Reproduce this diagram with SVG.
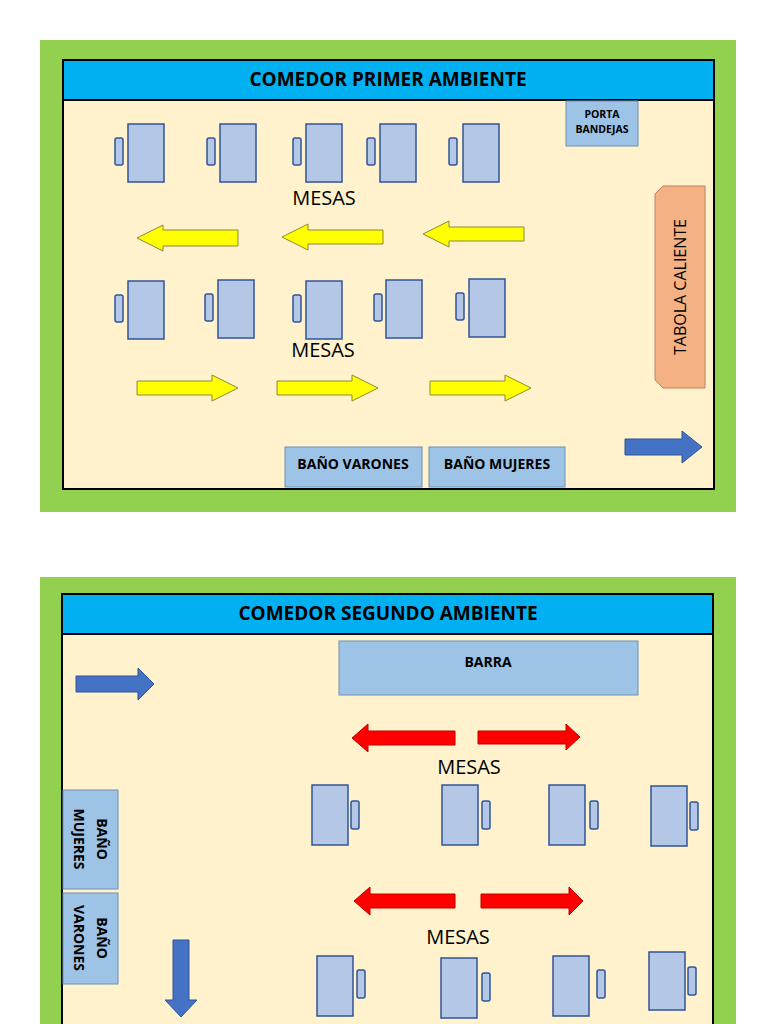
<svg xmlns="http://www.w3.org/2000/svg" width="768" height="1024" viewBox="0 0 768 1024">
<style>
.g{fill:#92d050}.fr{fill:#fff2cc;stroke:#000;stroke-width:2}.hd{fill:#00b0f0;stroke:#000;stroke-width:2}
.t{fill:#b4c7e7;stroke:#2f5597;stroke-width:1.5}.c{fill:#b4c7e7;stroke:#2f5597;stroke-width:1.5}
.bx{fill:#9dc3e6;stroke:#6f8fb8;stroke-width:1}
.ya{fill:#ffff00;stroke:#8a8a3a;stroke-width:1}.ra{fill:#ff0000;stroke:#c00000;stroke-width:1}.ba{fill:#4472c4;stroke:#2f5597;stroke-width:1}
text{font-family:"Open Sans","Liberation Sans",sans-serif;fill:#000}
.h{font-size:19px;font-weight:bold}.m{font-size:20px}.b{font-size:14px;font-weight:bold}.s{font-size:10.5px;font-weight:bold}
</style>
<rect class="g" x="40" y="40" width="696" height="472"/>
<rect class="fr" x="63" y="60" width="651" height="429"/>
<rect class="hd" x="63" y="60" width="651" height="40"/>
<text class="h" x="388" y="86" text-anchor="middle">COMEDOR PRIMER AMBIENTE</text>
<g id="mesas1">
<rect class="t" x="128" y="124" width="36" height="58"/><rect class="c" x="115" y="138" width="8" height="27" rx="2"/>
<rect class="t" x="220" y="124" width="36" height="58"/><rect class="c" x="207" y="138" width="8" height="27" rx="2"/>
<rect class="t" x="306" y="124" width="36" height="58"/><rect class="c" x="293" y="138" width="8" height="27" rx="2"/>
<rect class="t" x="380" y="124" width="36" height="58"/><rect class="c" x="367" y="138" width="8" height="27" rx="2"/>
<rect class="t" x="463" y="124" width="36" height="58"/><rect class="c" x="449" y="138" width="8" height="27" rx="2"/>
<rect class="t" x="128" y="281" width="36" height="58"/><rect class="c" x="115" y="295" width="8" height="27" rx="2"/>
<rect class="t" x="218" y="280" width="36" height="58"/><rect class="c" x="205" y="294" width="8" height="27" rx="2"/>
<rect class="t" x="306" y="281" width="36" height="58"/><rect class="c" x="293" y="295" width="8" height="27" rx="2"/>
<rect class="t" x="386" y="280" width="36" height="58"/><rect class="c" x="374" y="294" width="8" height="27" rx="2"/>
<rect class="t" x="469" y="279" width="36" height="58"/><rect class="c" x="456" y="293" width="8" height="27" rx="2"/>
<text class="m" x="324" y="205" text-anchor="middle">MESAS</text>
<text class="m" x="323" y="357" text-anchor="middle">MESAS</text>
</g>
<g id="connectors1">
<polygon class="ya" points="238,230 163,230 163,225 137,238 163,251 163,246 238,246"/>
<polygon class="ya" points="383,230 308,230 308,224 282,237 308,250 308,244 383,244"/>
<polygon class="ya" points="524,227 449,227 449,221 423,234 449,247 449,241 524,241"/>
<polygon class="ya" points="137,381 212,381 212,375 238,388 212,401 212,395 137,395"/>
<polygon class="ya" points="277,381 352,381 352,375 378,388 352,401 352,395 277,395"/>
<polygon class="ya" points="430,381 505,381 505,375 531,388 505,401 505,395 430,395"/>
<polygon class="ba" points="625,439 682,439 682,431 702,447 682,463 682,455 625,455"/>
</g>
<g id="porta"><rect class="bx" x="566" y="101" width="72" height="45"/>
<text class="s" x="602" y="118" text-anchor="middle">PORTA</text><text class="s" x="602" y="133" text-anchor="middle">BANDEJAS</text></g>
<g id="tabola"><polygon points="663,186 705,186 705,388 663,388 655,380 655,194" fill="#f4b183" stroke="#c08060" stroke-width="1"/>
<text font-size="16" transform="translate(686,287) rotate(-90)" text-anchor="middle">TABOLA CALIENTE</text></g>
<g id="banos1"><rect class="bx" x="285" y="447" width="137" height="40"/><text class="b" x="353" y="469" text-anchor="middle">BAÑO VARONES</text>
<rect class="bx" x="429" y="447" width="136" height="40"/><text class="b" x="497" y="469" text-anchor="middle">BAÑO MUJERES</text></g>

<rect class="g" x="40" y="577" width="696" height="447"/>
<rect class="fr" x="62" y="594" width="651" height="440"/>
<rect class="hd" x="62" y="594" width="651" height="40"/>
<text class="h" x="388" y="620" text-anchor="middle">COMEDOR SEGUNDO AMBIENTE</text>
<g id="barra"><rect class="bx" x="339" y="641" width="299" height="54"/><text class="b" x="488" y="667" text-anchor="middle">BARRA</text></g>
<g id="mesas2">
<rect class="t" x="312" y="785" width="36" height="60"/><rect class="c" x="351" y="801" width="8" height="28" rx="2"/>
<rect class="t" x="442" y="785" width="36" height="60"/><rect class="c" x="482" y="801" width="8" height="28" rx="2"/>
<rect class="t" x="549" y="785" width="36" height="60"/><rect class="c" x="590" y="801" width="8" height="28" rx="2"/>
<rect class="t" x="651" y="786" width="36" height="60"/><rect class="c" x="690" y="802" width="8" height="28" rx="2"/>
<rect class="t" x="317" y="956" width="36" height="60"/><rect class="c" x="357" y="970" width="8" height="28" rx="2"/>
<rect class="t" x="441" y="958" width="36" height="60"/><rect class="c" x="482" y="973" width="8" height="28" rx="2"/>
<rect class="t" x="553" y="956" width="36" height="60"/><rect class="c" x="597" y="970" width="8" height="28" rx="2"/>
<rect class="t" x="649" y="952" width="36" height="58"/><rect class="c" x="688" y="967" width="8" height="28" rx="2"/>
<text class="m" x="469" y="774" text-anchor="middle">MESAS</text>
<text class="m" x="458" y="944" text-anchor="middle">MESAS</text>
</g>
<g id="connectors2">
<polygon class="ba" points="76,676 138,676 138,668 154,684 138,700 138,692 76,692"/>
<polygon class="ra" points="455,731 368,731 368,724 352,738 368,752 368,745 455,745"/>
<polygon class="ra" points="478,731 566,731 566,724 580,737 566,750 566,744 478,744"/>
<polygon class="ra" points="455,894 370,894 370,887 354,901 370,915 370,908 455,908"/>
<polygon class="ra" points="481,894 569,894 569,887 583,901 569,915 569,908 481,908"/>
<polygon class="ba" points="173,940 189,940 189,1000 197,1000 181,1017 165,1000 173,1000"/>
</g>
<g id="banos2">
<rect class="bx" x="63" y="790" width="55" height="99"/>
<text class="b" transform="translate(97,839) rotate(90)" text-anchor="middle">BAÑO</text>
<text class="b" transform="translate(74,839) rotate(90)" text-anchor="middle">MUJERES</text>
<rect class="bx" x="63" y="893" width="55" height="91"/>
<text class="b" transform="translate(97,938) rotate(90)" text-anchor="middle">BAÑO</text>
<text class="b" transform="translate(74,938) rotate(90)" text-anchor="middle">VARONES</text>
</g>
</svg>
